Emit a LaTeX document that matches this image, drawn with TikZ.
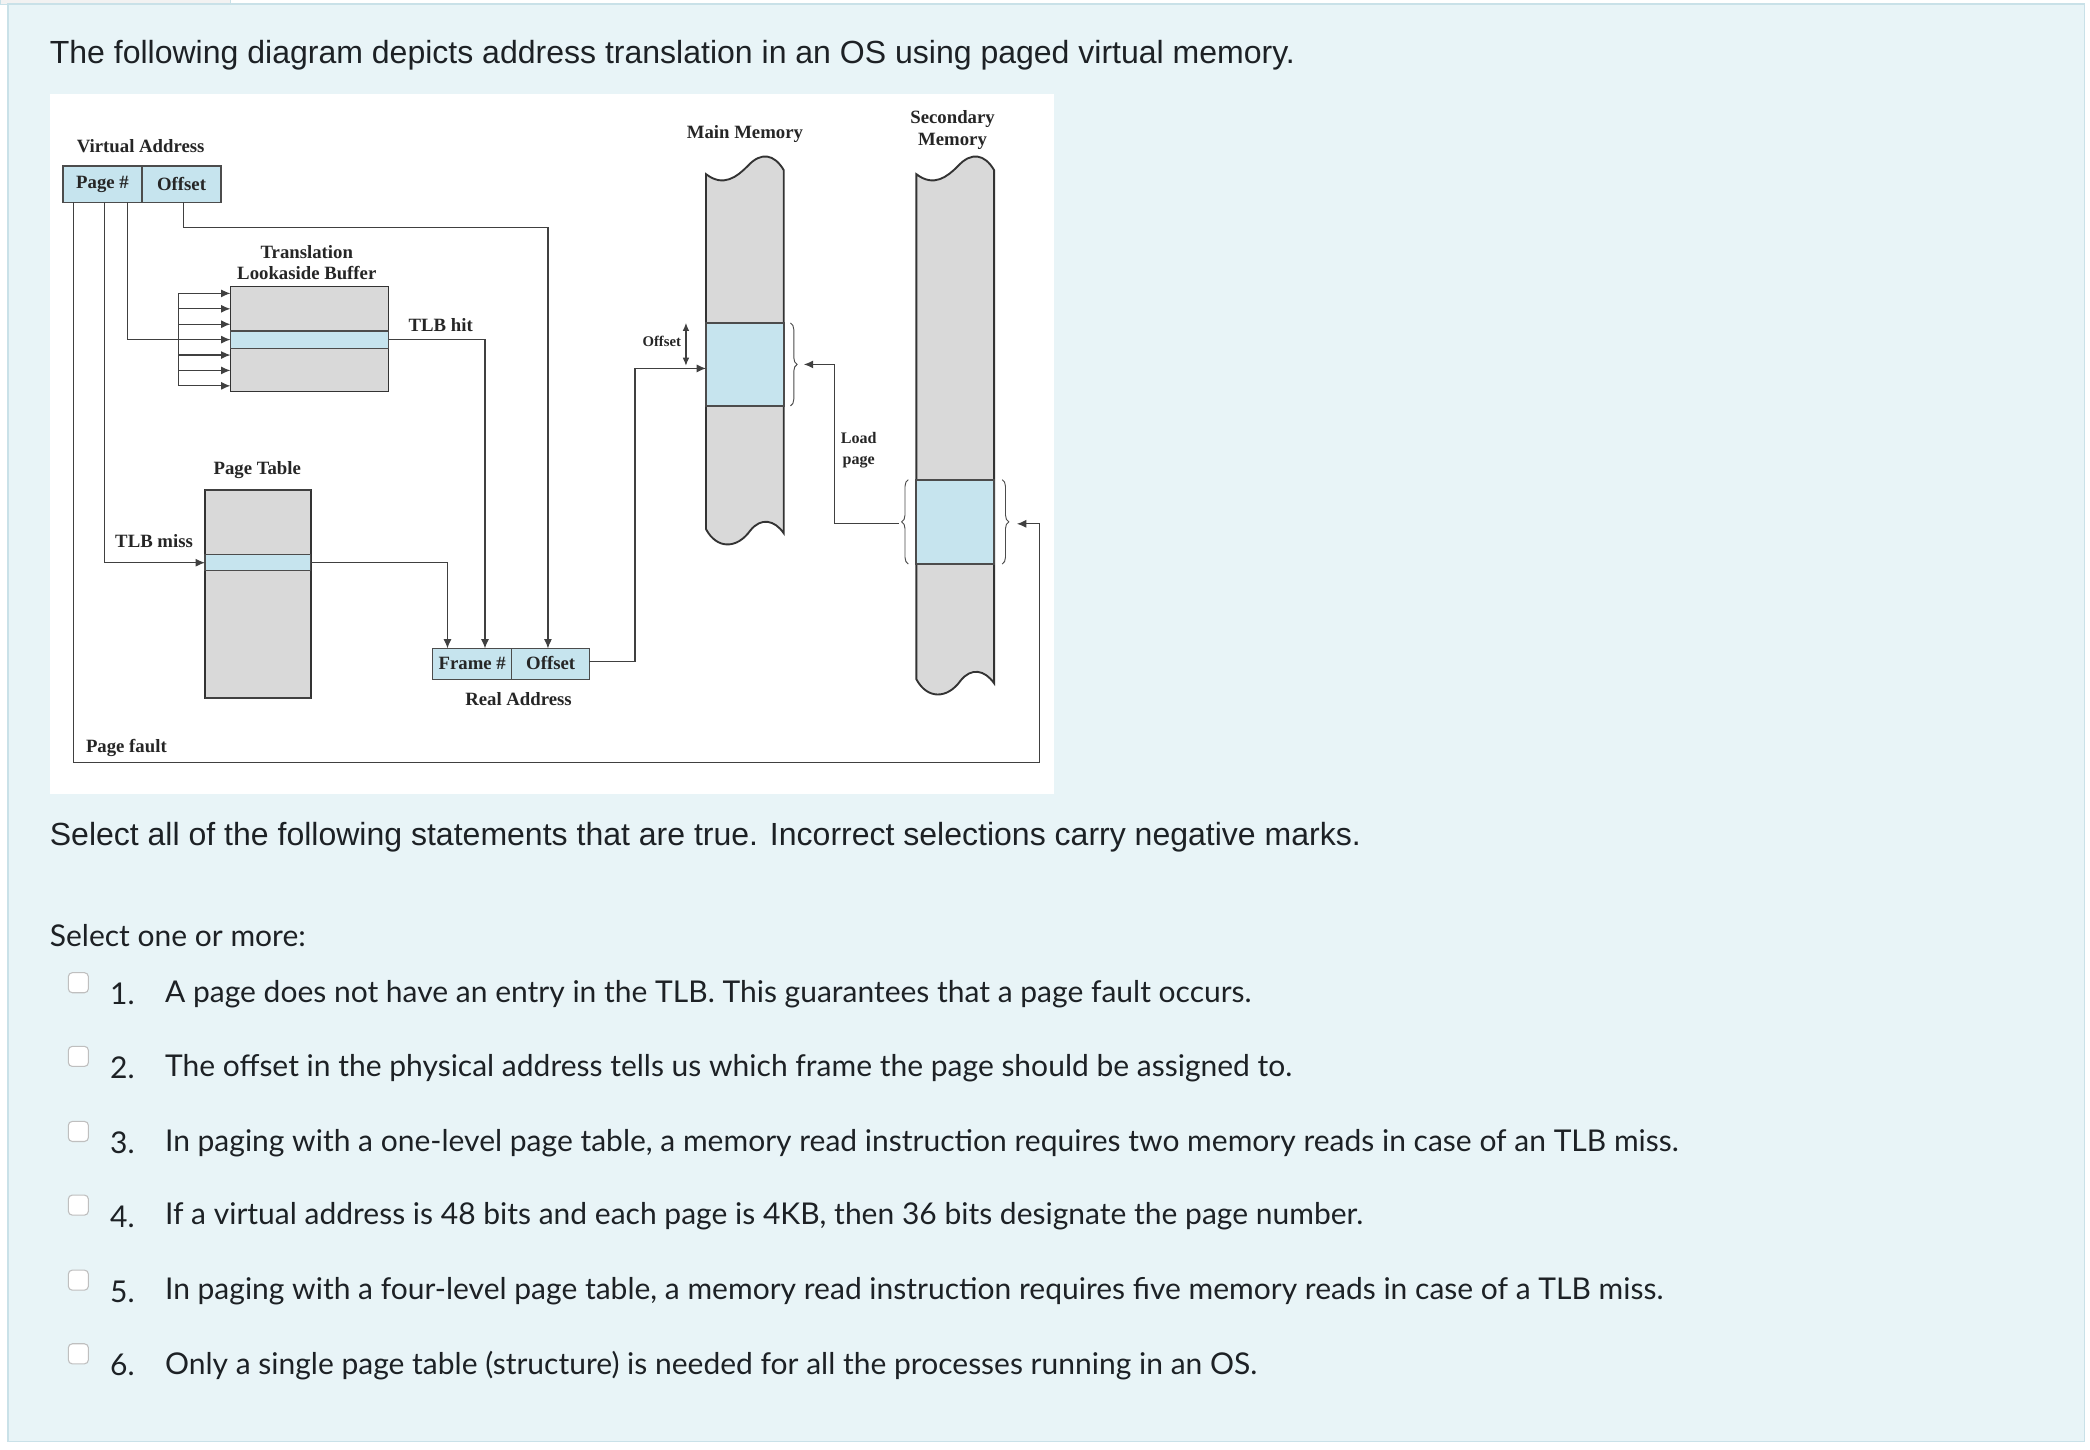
\documentclass[tikz,border=0pt]{standalone}
\usepackage{fontspec}
\setmainfont{Liberation Serif}
\newfontfamily\hdfont{Liberation Sans}
\newfontfamily\qfont{Lato}
\usetikzlibrary{arrows.meta,decorations.pathreplacing}
\definecolor{panel}{HTML}{E8F4F7}
\definecolor{panelbd}{HTML}{C9E1E8}
\definecolor{memgray}{HTML}{D9D9D9}
\definecolor{hl}{HTML}{C6E4EE}
\definecolor{txt}{HTML}{1D2125}
\tikzset{
  lbl/.style={font=\bfseries\fontsize{14}{16}\selectfont, text=black!85, inner sep=0pt, align=center},
  wire/.style={draw=black!75, line width=0.9pt},
  arr/.style={wire, -{Latex[length=7pt,width=6pt]}},
  box/.style={draw=black!80, line width=1.4pt, fill=memgray},
  cell/.style={draw=black!70, line width=1pt, fill=hl},
  hd/.style={font=\hdfont\fontsize{23.9}{27}\selectfont, text=txt, anchor=west, inner sep=0pt},
  qi/.style={font=\qfont\fontsize{22.4}{25}\selectfont, text=txt, anchor=west, inner sep=0pt},
  chk/.style={draw=black!25, fill=white, rounded corners=3pt, line width=0.8pt},
  brc/.style={draw=black!70, line width=0.7pt, decorate, decoration={brace, amplitude=5pt}}
}
\begin{document}
\begin{tikzpicture}[x=1pt,y=-1pt]
\useasboundingbox (0,0) rectangle (1560,1082);
\fill[white] (0,0) rectangle (1560,1082);
\draw[panelbd, fill=black!5] (0,-2) rectangle (172,3);
\draw[panelbd, fill=panel, line width=1pt] (6,3) rectangle (1556,1076);
\node[hd] (title) at (37,41) {The following diagram depicts address translation in an OS using paged virtual memory.};
\fill[white] (37,70) rectangle (787,593);

% virtual address
\node[lbl] (va) at (105,109) {Virtual Address};
\draw[cell] (47,124) rectangle (106,151);
\draw[cell] (106,124) rectangle (165,151);
\node[lbl] (pg) at (76.5,137.5) {Page \#};
\node[lbl] (of) at (135.5,137.5) {Offset};

% TLB
\node[lbl] (tlbl) at (229,196) {Translation\\Lookaside Buffer};
\draw[box, line width=1pt] (172,214) rectangle (290,292);
\draw[cell] (172,247) rectangle (290,260);
\foreach \yy in {219,230.5,242,253.5,265,276.5,288} \draw[arr] (133,\yy) -- (172,\yy);
\draw[wire] (133,219) -- (133,288);
\draw[wire] (95,151) -- (95,253.5) -- (133,253.5);
\node[lbl] (hit) at (329,243) {TLB hit};

% page table
\node[lbl] (ptl) at (192,351) {Page Table};
\draw[box] (153,366) rectangle (232,521);
\draw[cell] (153,414) rectangle (232,426);
\draw[wire, line width=1.4pt] (153,366) -- (232,366) (153,521) -- (232,521);
\node[lbl] (miss) at (115,404) {TLB miss};
\draw[arr] (78,151) -- (78,420) -- (153,420);

% real address
\draw[cell] (323,484) rectangle (382,507);
\draw[cell] (382,484) rectangle (440,507);
\node[lbl] (fr) at (352.5,495) {Frame \#};
\node[lbl] (of2) at (411,495) {Offset};
\node[lbl] (ra) at (387,522) {Real Address};
\draw[arr] (232,420) -- (334,420) -- (334,484);
\draw[arr] (290,253.5) -- (362,253.5) -- (362,484);
\draw[arr] (137,151) -- (137,170) -- (409,170) -- (409,484);

% main memory
\node[lbl] (mm) at (556,100) {Main Memory};
\draw[box] (527,130) .. controls (540,140) and (550,132) .. (558,124) .. controls (568,113) and (578,115) .. (585,127)
  -- (585,398) .. controls (578,388) and (568,386) .. (560,396) .. controls (550,410) and (535,410) .. (527,395) -- cycle;
\draw[cell, line width=1.4pt] (527,241) rectangle (585,303);
\draw[arr] (440,494) -- (474,494) -- (474,275) -- (527,275);
\draw[wire, {Latex[length=6pt,width=5pt]}-{Latex[length=6pt,width=5pt]}] (512,241) -- (512,273);
\node[lbl, font=\bfseries\fontsize{11}{12}\selectfont] (offl) at (494,255) {Offset};
\draw[brc] (590,241) -- (590,303);
\draw[arr] (623,272) -- (600,272);
\node[lbl, font=\bfseries\fontsize{12}{15}\selectfont] (ld) at (641,336) {Load\\page};

% secondary memory
\node[lbl] (sm) at (711,97) {Secondary\\Memory};
\draw[box] (684,130) .. controls (697,140) and (707,132) .. (715,124) .. controls (725,113) and (735,115) .. (742,127)
  -- (742,510) .. controls (735,500) and (725,498) .. (717,508) .. controls (707,522) and (692,522) .. (684,507) -- cycle;
\draw[cell, line width=1.4pt] (684,358) rectangle (742,421);
\draw[brc] (678,421) -- (678,358);
\draw[brc] (748,358) -- (748,421);
\draw[wire] (623,272) -- (623,391) -- (671,391);
\draw[arr] (776,391) -- (759,391);
\draw[wire] (55,151) -- (55,569) -- (776,569) -- (776,391);
\node[lbl, anchor=west] (pf) at (64,558) {Page fault};

% questions
\node[hd] (sel) at (37,625) {Select all of the following statements that are true. Incorrect selections carry negative marks.};
\node[qi] (one) at (37,698) {Select one or more:};
\foreach \yy/\n/\t in {
 742/1./{A page does not have an entry in the TLB. This guarantees that a page fault occurs.},
 797/2./{The offset in the physical address tells us which frame the page should be assigned to.},
 853/3./{In paging with a one-level page table, a memory read instruction requires two memory reads in case of an TLB miss.},
 908/4./{If a virtual address is 48 bits and each page is 4KB, then 36 bits designate the page number.},
 964/5./{In paging with a four-level page table, a memory read instruction requires five memory reads in case of a TLB miss.},
 1019/6./{Only a single page table (structure) is needed for all the processes running in an OS.}} {
  \draw[chk] (51,\yy-16) rectangle (66,\yy-1);
  \node[qi] at (82,\yy) {\n};
  \node[qi] at (123,\yy) {\t};
}
\end{tikzpicture}
\end{document}
